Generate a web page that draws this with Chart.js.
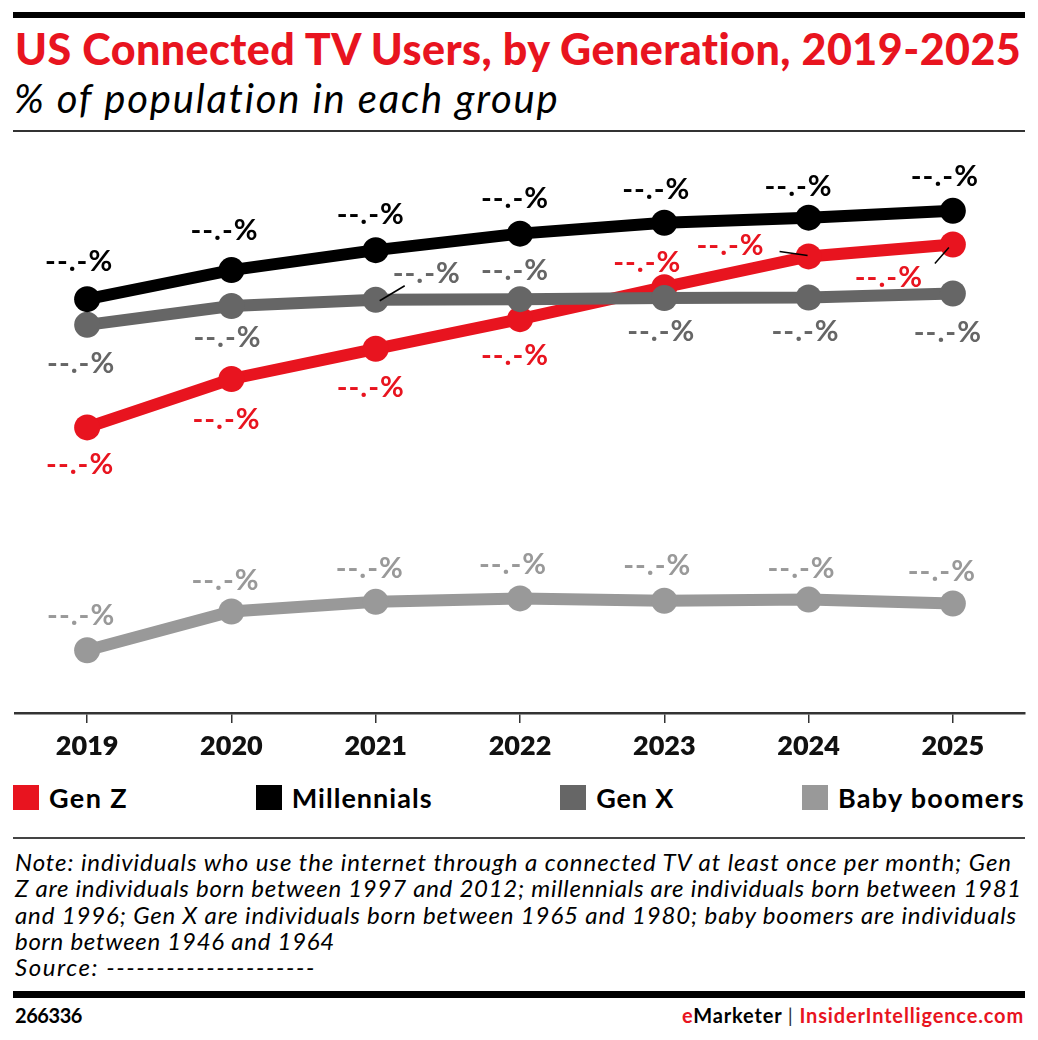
<!DOCTYPE html>
<html><head><meta charset="utf-8">
<script src="https://cdn.jsdelivr.net/npm/chart.js@4.4.1/dist/chart.umd.min.js"></script>
<style>
body{margin:0;background:#fff;font-family:Lato,"Open Sans",sans-serif;color:#000;}
#page{position:relative;width:1038px;height:1040px;overflow:hidden;background:#fff;}
.abs{position:absolute;white-space:nowrap;}
.note div{height:26.3px;line-height:26.3px;white-space:nowrap;}
.note span{display:inline-block;}
.lg{display:flex;align-items:center;}
.lg i{display:inline-block;width:26px;height:25px;margin-right:10px;}
.lg span{font-size:27px;font-weight:700;line-height:25px;display:inline-block;}
</style></head><body>
<div id="page">
 <div class="abs" style="left:13px;top:12px;width:1012px;height:6px;background:#000"></div>
 <div class="abs fit" data-w="1007" style="left:15px;top:26px;font-size:43px;font-weight:900;color:#e8141f;line-height:46px">US Connected TV Users, by Generation, 2019-2025</div>
 <div class="abs fit" data-w="545" style="left:14px;top:76px;font-size:40px;font-style:italic;font-weight:400;line-height:44px">% of population in each group</div>
 <div class="abs" style="left:13px;top:130px;width:1012px;height:2px;background:#333"></div>
 <div class="abs" style="left:0;top:130px;width:1038px;height:650px"><canvas id="c"></canvas></div>
 <div id="legend" class="abs" style="left:13px;top:784px;width:1012px;height:26px;display:flex;justify-content:space-between"></div>
 <div class="abs" style="left:13px;top:837px;width:1012px;height:2px;background:#444"></div>
 <div class="abs note" style="left:15px;top:849px;font-size:24px;font-style:italic;">
  <div><span class="fit" data-w="997">Note: individuals who use the internet through a connected TV at least once per month; Gen</span></div>
  <div><span class="fit" data-w="1007">Z are individuals born between 1997 and 2012; millennials are individuals born between 1981</span></div>
  <div><span class="fit" data-w="1002">and 1996; Gen X are individuals born between 1965 and 1980; baby boomers are individuals</span></div>
  <div><span class="fit" data-w="320">born between 1946 and 1964</span></div>
  <div><span class="fit" data-w="301">Source: ---------------------</span></div>
 </div>
 <div class="abs" style="left:13px;top:991px;width:1012px;height:7px;background:#000"></div>
 <div class="abs fit" data-w="67" style="left:15px;top:1004px;font-size:20px;font-weight:700;line-height:22px">266336</div>
 <div class="abs fit" data-w="342" style="left:682px;top:1004px;font-size:20px;font-weight:700;line-height:22px"><span style="color:#e8141f">e</span>Marketer <span style="color:#333;font-weight:400">|</span> <span style="color:#e8141f">InsiderIntelligence.com</span></div>
</div>
<script>
// ---- data ----
const years = ['2019', '2020', '2021', '2022', '2023', '2024', '2025'];
const seriesNames = ['Gen Z', 'Millennials', 'Gen X', 'Baby boomers'];
const genZ        = [50.1, 58.6, 63.9, 69.1, 74.7, 80.1, 82.2];
const millennials = [72.6, 77.7, 81.2, 84.1, 86.0, 86.9, 88.1];
const genX        = [68.1, 71.4, 72.5, 72.6, 72.8, 72.9, 73.6];
const boomers     = [11.0, 17.8, 19.5, 20.1, 19.7, 19.9, 19.2];
const valueLabel  = '--.-%';

// ---- style / layout ----
const colors = ['#e8141f', '#000000', '#666666', '#999999'];
const labelOffsets = [
  [[-8,37],[-6,41],[-6,39],[-6,37],[-18,-25],[-79,-11],[-65,33]],
  [[-9,-38],[-8,-39],[-6,-36],[-6,-35],[-9,-33],[-11,-31],[-9,-34]],
  [[-7,39],[-5,32],[50,-26],[-6,-29],[-4,34],[-4,34],[-6,39]],
  [[-7,-35],[-7,-31],[-7,-33],[-8,-34],[-8,-35],[-8,-31],[-12,-32]]
];
const leaders = [
  {5: [[-29,-5],[-1,-1]], 6: [[-18,19],[-4,3]]},
  {},
  {2: [[4,1],[29,-14]]},
  {}
];

function fitAll(){
  document.querySelectorAll('.fit').forEach(el=>{
    el.style.letterSpacing='0px';
    const w = el.getBoundingClientRect().width;
    const n = el.textContent.length;
    el.style.letterSpacing = ((+el.dataset.w - w)/n) + 'px';
  });
}

const labelPlugin = {
  id:'valueLabels',
  afterDatasetsDraw(chart){
    const ctx = chart.ctx;
    ctx.save();
    chart.data.datasets.forEach((ds, di)=>{
      const meta = chart.getDatasetMeta(di);
      meta.data.forEach((pt, i)=>{
        const lead = leaders[di][i];
        if(lead){
          ctx.strokeStyle='#000'; ctx.lineWidth=1.5;
          ctx.beginPath();
          ctx.moveTo(pt.x+lead[0][0], pt.y+lead[0][1]);
          ctx.lineTo(pt.x+lead[1][0], pt.y+lead[1][1]);
          ctx.stroke();
        }
      });
    });
    chart.data.datasets.forEach((ds, di)=>{
      const meta = chart.getDatasetMeta(di);
      ctx.fillStyle = colors[di];
      ctx.font = '700 29px Lato, "Open Sans", sans-serif';
      if ('letterSpacing' in ctx) ctx.letterSpacing = '1px';
      ctx.textAlign='center'; ctx.textBaseline='middle';
      meta.data.forEach((pt, i)=>{
        const o = labelOffsets[di][i];
        ctx.fillText(valueLabel, pt.x+o[0]+1, pt.y+o[1]);
      });
    });
    ctx.restore();
  }
};

const seriesData = [genZ, millennials, genX, boomers];
const datasets = seriesNames.map((name, i)=>({
  label: name,
  data: seriesData[i],
  borderColor: colors[i],
  backgroundColor: colors[i],
  pointBackgroundColor: colors[i],
  pointBorderWidth: 0,
  pointRadius: 13,
  pointHoverRadius: 13,
  borderWidth: 12,
  tension: 0,
  clip: false,
  order: i === 0 ? 1 : 0
}));

const chart = new Chart(document.getElementById('c'), {
  type: 'line',
  data: { labels: years, datasets },
  options: {
    responsive: true, maintainAspectRatio: false, animation: false,
    layout: { padding: { left: 15, right: 11, top: 10, bottom: 0 } },
    plugins: { legend: { display: false }, tooltip: { enabled: false } },
    scales: {
      x: {
        offset: true,
        grid: { display: true, drawOnChartArea: false, drawTicks: true, tickLength: 10, color: '#333', lineWidth: 1.5 },
        border: { display: true, color: '#333', width: 2.5 },
        ticks: { font: { family: 'Lato', size: 27, weight: '800' }, color: '#111', padding: 7 },
        afterFit(s){ s.height = 67; }
      },
      y: { display: false, min: 0, max: 100 }
    }
  },
  plugins: [labelPlugin]
});

// HTML legend built from datasets
const lg = document.getElementById('legend');
const legendWidths = [79, 141, 78, 187];
chart.data.datasets.forEach((ds, i)=>{
  const d = document.createElement('div'); d.className='lg';
  const b = document.createElement('i'); b.style.background = ds.backgroundColor;
  const s = document.createElement('span'); s.textContent = ds.label; s.className='fit'; s.dataset.w = legendWidths[i];
  d.appendChild(b); d.appendChild(s); lg.appendChild(d);
});
fitAll();
if(document.fonts && document.fonts.ready){ document.fonts.ready.then(()=>{ fitAll(); chart.update('none'); }); }
</script>
</body></html>
